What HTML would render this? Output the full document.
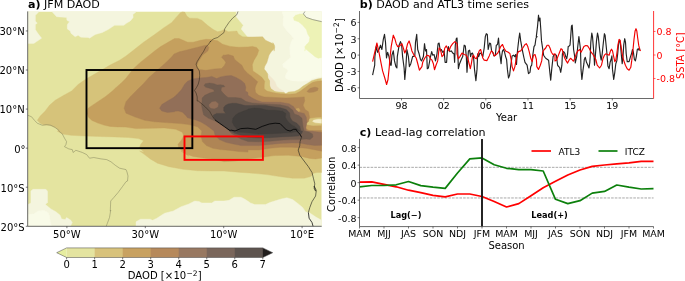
<!DOCTYPE html>
<html><head><meta charset="utf-8"><title>Figure</title>
<style>html,body{margin:0;padding:0;background:#fff}svg{display:block}</style></head>
<body>
<svg width="685" height="281" viewBox="0 0 685 281" font-family="'DejaVu Sans', 'Liberation Sans', sans-serif">
<rect width="685" height="281" fill="#fff"/>
<defs><clipPath id="mc"><rect x="27.7" y="11.4" width="294.00" height="214.90"/></clipPath></defs>
<g clip-path="url(#mc)">
<rect x="27.7" y="11.4" width="294.00" height="214.90" fill="#e4e4a0"/>
<path d="M27.3,10.3 L38.7,10.3 L38.7,12.1 L35.4,15.3 L35.4,21.0 L37.3,23.2 L35.4,24.6 L35.4,29.6 L37.3,32.5 L41.6,38.2 L33.7,43.6 L27.3,43.6Z" fill="#f4f5de" stroke="#f4f5de" stroke-width="0.4" stroke-linejoin="round"/>
<path d="M52.3,10.3 L52.3,12.1 L56.6,16.7 L66.6,17.4 L66.9,20.3 L69.5,21.7 L67.3,24.6 L67.3,28.9 L70.2,31.0 L70.9,33.2 L75.2,36.8 L78.1,35.3 L80.9,37.2 L88.1,37.5 L89.5,38.2 L95.2,34.6 L102.4,32.5 L108.1,29.6 L114.6,25.3 L123.9,25.3 L126.0,23.6 L130.3,21.0 L133.2,17.4 L132.9,14.6 L136.0,12.1 L136.0,10.3Z" fill="#f4f5de" stroke="#f4f5de" stroke-width="0.4" stroke-linejoin="round"/>
<path d="M236.2,10.3 L236.2,16.7 L239.7,21.0 L243.3,25.3 L241.2,28.9 L244.0,32.5 L247.6,36.8 L262.0,42.0 L258.0,60.0 L252.0,80.0 L258.0,96.0 L275.0,101.0 L300.0,96.0 L325.0,80.0 L325.0,5.0Z" fill="#f4f5de" stroke="#f4f5de" stroke-width="0.4" stroke-linejoin="round"/>
<path d="M30.9,191.0 L33.0,189.3 L45.9,189.3 L47.6,191.3 L47.6,202.8 L47.3,202.4 L45.5,204.6 L50.9,208.9 L55.9,211.7 L60.2,215.3 L61.6,218.9 L65.2,219.6 L66.6,217.5 L70.9,220.3 L72.3,222.5 L70.2,226.8 L27.3,226.8 L27.3,204.8 L30.9,203.0Z" fill="#f4f5de" stroke="#f4f5de" stroke-width="0.4" stroke-linejoin="round"/>
<path d="M136.0,226.8 L136.0,221.8 L140.3,219.2 L150.3,219.2 L152.5,220.3 L156.8,218.2 L164.6,213.2 L173.2,211.0 L181.1,206.7 L188.9,203.9 L194.7,201.0 L199.0,201.5 L201.8,202.9 L211.8,202.9 L214.7,201.0 L224.0,201.0 L224.0,201.0 L229.0,200.3 L234.0,197.2 L241.2,197.2 L245.5,199.6 L250.5,202.9 L254.8,204.6 L265.5,204.6 L269.8,202.5 L276.9,200.3 L281.2,198.9 L286.9,197.7 L292.7,199.6 L298.4,203.9 L302.7,207.5 L305.5,211.8 L309.8,212.9 L315.6,216.8 L324.1,221.8 L324.1,227.5Z" fill="#f4f5de" stroke="#f4f5de" stroke-width="0.4" stroke-linejoin="round"/>
<path d="M292.8,38.8 L290.7,43.2 L289.6,47.5 L290.1,54.0 L290.7,57.2 L285.8,61.5 L282.6,64.2 L283.1,66.9 L286.9,69.1 L288.0,71.0 L288.0,71.0 L285.3,75.3 L285.8,78.6 L291.2,80.7 L299.8,81.3 L308.5,80.7 L312.8,78.6 L318.2,76.9 L323.6,76.4 L325.0,5.0 L281.9,10.3 L283.4,16.7 L282.9,25.3 L286.9,31.0 L291.2,35.3 L294.1,39.6Z" fill="#f9fbe8" stroke="#f9fbe8" stroke-width="0.4" stroke-linejoin="round"/>
<path d="M27.3,214.6 L33.7,213.9 L38.0,211.0 L43.7,210.3 L48.0,212.5 L49.5,216.0 L50.2,221.0 L51.6,226.8 L27.3,226.8Z" fill="#f9fbe8" stroke="#f9fbe8" stroke-width="0.4" stroke-linejoin="round"/>
<path d="M295.5,15.3 L293.4,17.4 L294.1,20.3 L298.4,21.7 L302.0,24.6 L306.3,29.6 L307.7,33.9 L309.8,37.5 L309.1,41.8 L305.5,46.1 L304.8,51.1 L306.9,44.2 L304.7,46.9 L306.3,49.6 L310.6,52.9 L315.0,56.7 L318.2,58.3 L323.6,57.2 L324.1,22.2 L312.7,19.6 L306.3,17.4 L303.4,13.9 L299.8,14.1Z" fill="#edf2b6" stroke="#edf2b6" stroke-width="0.4" stroke-linejoin="round"/>
<path d="M37.3,120.3 L40.2,116.0 L45.2,111.0 L49.5,105.3 L55.2,100.3 L63.8,95.3 L71.6,91.0 L78.1,84.6 L85.2,79.6 L93.8,74.6 L102.4,69.6 L111.0,64.6 L119.6,60.3 L126.0,56.0 L132.4,51.1 L143.2,42.5 L154.6,34.6 L163.2,28.2 L171.8,22.4 L176.1,17.4 L180.4,12.7 L182.5,11.7 L184.7,12.1 L186.8,16.0 L189.7,18.2 L197.5,18.4 L201.8,20.3 L207.5,25.3 L213.3,29.6 L217.6,31.7 L221.1,31.0 L224.0,29.6 L228.3,31.7 L236.9,31.0 L238.3,33.9 L242.6,36.8 L247.6,37.0 L262.6,36.8 L265.5,40.3 L272.6,43.6 L274.8,46.8 L274.1,51.1 L272.8,42.6 L274.5,45.3 L273.4,49.6 L271.2,51.8 L269.1,55.0 L268.0,58.8 L266.9,62.6 L264.7,66.4 L264.2,69.1 L265.8,71.0 L268.0,74.2 L268.5,78.0 L270.1,80.7 L270.1,85.0 L271.2,88.3 L275.0,91.0 L283.6,92.1 L285.8,93.7 L288.5,92.1 L294.4,91.5 L298.8,89.4 L303.1,86.1 L307.4,83.4 L311.7,80.7 L317.1,79.1 L323.6,78.0 L325.0,172.4 L317.0,172.5 L313.4,173.2 L311.3,176.0 L309.8,176.8 L304.1,178.2 L292.7,178.2 L281.2,176.8 L266.9,174.6 L252.6,173.2 L238.3,172.2 L224.0,171.0 L211.8,171.0 L197.5,170.7 L183.2,169.3 L168.9,166.7 L157.5,163.2 L150.3,158.9 L144.6,154.6 L139.6,151.0 L144.3,152.2 L139.3,147.9 L140.8,144.3 L143.6,140.7 L138.6,138.6 L128.6,137.5 L114.3,136.9 L100.0,136.5 L85.2,136.0 L70.9,135.3 L62.3,133.9 L57.3,131.0 L59.5,131.1 L55.2,127.5 L49.5,125.3 L43.7,125.0 L40.2,123.2Z" fill="#d6c37a" stroke="#d6c37a" stroke-width="0.4" stroke-linejoin="round"/>
<path d="M268.0,74.2 L269.1,75.3 L272.3,78.6 L275.0,81.8 L276.6,86.1 L279.3,88.8 L283.6,91.0 L283.6,92.1 L275.0,91.0 L271.2,88.3 L270.1,85.0 L270.1,80.7 L268.5,78.0Z" fill="#f1e8cf" stroke="#f1e8cf" stroke-width="0.4" stroke-linejoin="round"/>
<path d="M87.4,110.3 L88.1,108.2 L96.7,102.4 L105.3,96.7 L112.4,91.0 L115.3,88.2 L121.0,83.2 L126.0,78.2 L133.2,68.9 L140.3,62.4 L147.5,56.7 L154.6,51.0 L160.3,46.8 L168.9,41.8 L174.6,38.5 L178.9,38.5 L183.2,40.3 L187.5,42.2 L193.2,42.2 L200.4,40.3 L206.1,39.3 L211.8,39.6 L217.6,40.8 L222.6,44.2 L230.2,46.4 L238.8,47.3 L248.0,46.9 L252.3,46.4 L256.6,47.5 L258.8,50.2 L257.2,55.0 L253.9,60.4 L252.3,64.8 L252.9,71.0 L257.7,74.2 L262.0,77.5 L264.7,81.3 L264.2,85.0 L264.2,88.8 L266.9,91.0 L272.8,92.6 L280.4,93.7 L289.0,94.2 L295.5,93.7 L299.8,91.5 L304.2,88.3 L308.5,85.0 L312.8,82.3 L317.1,81.3 L323.6,80.7 L325.0,158.0 L322.0,157.9 L315.6,158.9 L309.8,158.4 L301.3,156.4 L288.4,155.3 L274.1,155.6 L264.1,157.0 L248.0,158.9 L235.4,161.0 L224.0,161.7 L214.7,159.3 L203.3,157.9 L193.2,156.4 L186.1,153.9 L181.1,151.0 L188.7,155.8 L184.4,152.2 L178.7,147.9 L178.0,144.3 L181.5,140.0 L183.7,135.7 L182.3,132.2 L175.8,129.3 L164.4,127.9 L150.1,128.3 L135.8,128.6 L125.8,127.1 L117.9,126.9 L109.9,126.4 L103.9,125.1 L97.9,123.1 L92.0,120.4 L88.5,117.3 L87.0,113.5Z" fill="#c5a05e" stroke="#c5a05e" stroke-width="0.4" stroke-linejoin="round"/>
<path d="M323.3,117.4 L316.2,117.7 L310.5,118.5 L306.2,120.2 L304.8,122.4 L306.9,124.5 L312.6,125.5 L323.3,125.2Z" fill="#d6c37a" stroke="#d6c37a" stroke-width="0.4" stroke-linejoin="round"/>
<path d="M323.3,119.2 L317.6,119.2 L313.3,120.2 L312.6,121.6 L315.5,122.8 L323.3,123.4Z" fill="#f3ecc6" stroke="#f3ecc6" stroke-width="0.4" stroke-linejoin="round"/>
<path d="M136.0,91.0 L130.3,96.7 L126.0,101.7 L124.1,108.2 L126.0,113.2 L134.6,116.8 L144.6,120.3 L154.6,121.8 L168.9,122.8 L180.4,123.6 L188.9,124.6 L197.5,126.8 L201.8,131.1 L201.0,136.4 L202.6,141.8 L206.4,145.6 L212.9,148.3 L220.4,149.6 L230.2,150.4 L238.8,151.5 L248.0,152.1 L248.0,149.9 L258.8,149.9 L269.6,148.3 L280.4,147.2 L291.2,147.2 L299.8,147.7 L306.3,148.3 L312.8,149.4 L323.6,151.5 L325.0,130.5 L309.0,130.5 L306.3,129.1 L304.2,124.8 L308.5,121.5 L309.6,117.2 L308.5,111.8 L305.2,109.6 L303.1,105.3 L304.7,101.0 L304.2,96.9 L296.6,97.5 L285.8,98.0 L275.0,97.5 L264.2,96.9 L258.8,95.3 L255.6,92.6 L255.0,88.3 L256.1,85.0 L257.7,81.8 L254.5,79.1 L251.2,75.9 L248.0,73.7 L244.0,69.6 L241.9,65.3 L238.3,62.4 L234.7,59.6 L233.3,56.0 L228.3,54.6 L224.0,55.3 L223.7,54.8 L221.5,57.2 L224.2,59.9 L225.8,62.6 L224.2,65.8 L221.5,68.5 L214.7,68.9 L206.1,70.3 L199.0,69.6 L196.1,65.3 L197.2,64.8 L198.3,61.5 L200.5,58.3 L202.6,55.0 L205.3,52.9 L208.0,50.7 L208.8,47.5 L207.5,45.3 L204.2,45.5 L198.8,46.9 L192.4,48.6 L185.9,50.2 L179.4,51.8 L174.0,54.0 L171.8,56.7 L166.1,62.4 L160.3,67.5 L154.6,72.5 L148.9,77.5 L143.2,83.9 L137.4,89.6Z" fill="#af8555" stroke="#af8555" stroke-width="0.4" stroke-linejoin="round"/>
<path d="M306.9,91.5 L310.1,88.3 L315.0,87.0 L318.2,88.1 L317.7,90.4 L313.9,92.1 L309.0,92.6Z" fill="#af8555" stroke="#af8555" stroke-width="0.4" stroke-linejoin="round"/>
<path d="M295.5,110.2 L296.6,108.6 L298.8,108.3 L300.1,110.2 L298.8,112.0 L296.6,112.0Z" fill="#c5a05e" stroke="#c5a05e" stroke-width="0.4" stroke-linejoin="round"/>
<path d="M174.0,97.5 L177.2,94.2 L181.6,89.4 L184.8,84.0 L187.5,81.3 L192.4,79.1 L198.8,78.0 L206.4,77.5 L211.8,76.4 L216.7,78.6 L220.4,76.9 L225.8,75.9 L231.2,75.5 L236.1,77.5 L241.0,80.2 L244.7,83.4 L245.8,87.2 L245.3,91.0 L248.0,92.6 L248.0,95.3 L252.3,98.0 L256.6,100.2 L262.0,102.0 L280.4,102.3 L289.0,103.7 L293.4,106.4 L295.5,109.6 L298.8,112.3 L304.2,113.4 L306.3,117.2 L306.9,122.6 L305.8,128.0 L306.3,131.0 L312.6,131.3 L317.9,132.1 L324.0,132.8 L324.0,145.1 L314.7,145.5 L307.2,144.5 L299.8,143.1 L291.2,142.9 L280.4,143.4 L269.6,144.5 L258.8,145.6 L248.0,145.6 L241.0,145.6 L233.4,144.0 L225.8,142.3 L219.4,139.6 L215.0,135.3 L214.0,131.0 L210.7,128.5 L206.4,125.3 L201.0,122.1 L195.6,119.9 L191.3,118.8 L187.5,117.7 L185.3,115.0 L182.6,112.3 L178.3,110.9 L174.0,111.3 L174.6,111.7 L167.5,112.5 L161.8,111.0 L159.6,108.2 L161.8,104.6 L167.5,101.0 L176.1,96.0Z" fill="#926f58" stroke="#926f58" stroke-width="0.4" stroke-linejoin="round"/>
<path d="M202.1,101.0 L202.1,98.0 L204.8,95.3 L209.6,93.1 L214.5,91.5 L213.4,89.4 L209.6,88.3 L205.9,87.2 L204.0,85.6 L205.3,83.7 L209.6,83.1 L214.0,83.7 L217.2,85.0 L220.4,84.8 L223.7,85.3 L224.8,86.7 L221.5,87.2 L221.0,90.4 L222.6,92.6 L225.3,95.3 L228.0,97.5 L235.3,97.5 L241.1,98.2 L246.1,101.5 L252.0,102.9 L258.8,103.4 L269.6,104.2 L280.4,104.8 L288.0,106.4 L292.8,110.2 L294.4,114.0 L298.8,115.6 L302.0,118.3 L302.5,122.6 L303.1,126.9 L304.2,131.0 L309.0,132.0 L312.5,134.0 L313.0,137.0 L310.0,139.5 L306.3,139.1 L299.8,139.6 L291.2,139.6 L280.4,140.2 L269.6,141.3 L258.8,141.8 L248.0,141.5 L241.0,139.1 L235.6,135.9 L231.2,133.2 L229.1,131.0 L225.3,127.5 L220.4,124.2 L215.0,121.0 L208.6,118.3 L203.7,115.0 L202.6,110.7 L201.5,105.3 L202.1,101.0Z" fill="#725d4f" stroke="#725d4f" stroke-width="0.4" stroke-linejoin="round"/>
<path d="M209.6,104.2 L211.8,102.1 L215.6,101.5 L218.3,103.7 L217.7,106.9 L214.5,108.6 L210.7,108.0 L209.1,105.9Z" fill="#926f58" stroke="#926f58" stroke-width="0.4" stroke-linejoin="round"/>
<path d="M244.8,105.5 L240.4,104.3 L236.0,103.3 L232.4,103.3 L228.0,104.0 L225.3,105.5 L223.7,107.5 L223.7,110.7 L225.8,113.4 L221.5,113.4 L216.7,113.4 L213.4,115.0 L213.4,117.7 L216.1,120.4 L220.4,123.7 L224.8,126.4 L228.5,129.3 L230.2,131.0 L234.5,133.2 L241.0,135.3 L248.0,137.2 L258.8,138.0 L269.6,137.7 L280.4,136.9 L291.2,136.4 L298.8,135.9 L302.0,133.2 L302.5,131.0 L300.9,131.0 L299.8,126.4 L296.6,123.1 L292.3,121.0 L290.1,117.2 L289.6,112.9 L286.3,109.6 L280.4,107.7 L271.8,106.6 L266.0,105.5 L258.7,105.3 L251.3,105.5Z" fill="#514944" stroke="#514944" stroke-width="0.4" stroke-linejoin="round"/>
<path d="M248.0,109.6 L243.1,111.3 L238.8,112.9 L235.6,115.0 L232.9,118.3 L232.3,122.1 L233.9,125.3 L236.1,128.0 L237.7,131.0 L236.6,132.1 L242.0,132.3 L248.0,132.8 L258.8,134.0 L269.6,133.7 L280.4,133.2 L291.2,132.6 L297.7,131.5 L299.8,131.0 L297.1,128.5 L294.4,126.4 L290.7,124.2 L287.4,121.0 L285.3,117.2 L285.8,113.4 L282.6,111.3 L275.0,110.2 L267.4,110.2 L261.0,108.6 L254.5,108.0 L248.0,109.1Z" fill="#423e3b" stroke="#423e3b" stroke-width="0.4" stroke-linejoin="round"/>
<path d="M238.3,10.6 L236.9,14.6 L232.6,18.2 L229.0,22.4 L226.1,26.7 L224.7,28.9 L224.0,32.5 L217.6,37.5 L213.3,38.9 L210.4,41.8 L210.7,41.0 L208.6,44.2 L205.9,46.9 L203.7,51.3 L200.5,56.1 L197.2,61.5 L196.1,64.2 L197.2,67.5 L199.4,71.0 L199.7,75.3 L199.4,79.6 L198.3,84.0 L196.7,87.2 L194.5,90.4 L196.1,93.1 L197.2,96.9 L197.2,101.0 L198.3,101.0 L201.0,103.2 L205.3,106.9 L209.6,111.3 L212.3,116.1 L215.0,119.9" fill="none" stroke="#2a2418" stroke-width="0.5" stroke-linejoin="round"/>
<path d="M215.0,119.9 L219.4,123.1 L224.8,126.9 L230.2,130.7 L230.7,130.0 L235.0,131.0 L240.7,128.6 L247.9,128.2 L255.8,129.3 L262.2,126.4 L269.3,124.0 L275.1,123.2 L280.1,123.6 L282.9,126.4 L286.5,130.0 L290.1,131.0 L293.7,129.3 L296.2,129.3 L297.2,131.5 L300.1,134.3 L301.5,137.2" fill="none" stroke="#0c0c0c" stroke-width="0.95" stroke-linejoin="round"/>
<path d="M301.5,137.2 L300.1,141.5 L299.7,145.8 L298.2,150.1 L299.8,155.3 L304.1,161.0 L308.4,166.7 L312.0,172.5 L313.4,178.2 L314.8,183.9 L314.1,188.2 L315.6,191.1 L314.1,186.0 L316.3,190.3 L315.6,196.0 L312.0,201.7 L309.8,207.5 L308.4,212.5" fill="none" stroke="#2a2a20" stroke-width="0.65" stroke-linejoin="round"/>
<path d="M308.4,212.5 L309.1,218.2 L312.0,222.5 L313.4,227.5" fill="none" stroke="#111" stroke-width="0.8" stroke-linejoin="round"/>
<path d="M27.3,115.0 L31.6,116.8 L34.4,120.3 L37.3,123.2 L42.3,125.3 L46.6,124.6 L50.9,125.3 L55.2,127.5 L58.8,130.3 L58.8,131.0 L62.3,133.9 L64.5,138.2 L66.6,141.7 L65.9,144.6 L64.5,146.7 L68.8,148.9 L72.3,149.6 L73.1,152.5 L75.9,150.3 L82.4,152.5 L86.7,154.6 L89.5,158.2 L93.8,157.5 L101.0,158.9 L106.7,159.6 L111.0,161.8 L115.3,165.3 L119.6,168.2 L126.0,169.6 L127.0,172.0 L128.0,176.0 L127.5,181.0 L126.0,181.7 L122.4,186.7 L118.1,192.5 L113.8,197.5 L110.7,201.0 L110.3,211.1 L110.7,210.3 L109.5,217.5 L107.4,223.2 L106.0,226.8" fill="none" stroke="#8a8a62" stroke-width="0.55" stroke-linejoin="round"/>
<path d="M305.5,10.6 L303.4,13.9 L306.3,17.4 L312.7,19.6 L324.1,22.2" fill="none" stroke="#555" stroke-width="0.5" stroke-linejoin="round"/>
</g>
<rect x="86.50" y="70.01" width="105.84" height="78.15" fill="none" stroke="#000" stroke-width="1.9"/>
<rect x="184.50" y="136.43" width="78.40" height="23.44" fill="none" stroke="#f00" stroke-width="1.9"/>
<path d="M27.7,11.4 V226.3 H321.7" fill="none" stroke="#444" stroke-width="0.8"/>
<path d="M25.80,30.94 H27.7" stroke="#222" stroke-width="0.6"/>
<text x="24.70" y="35.04" text-anchor="end" font-size="10.0" fill="#000">30°N</text>
<path d="M25.80,70.01 H27.7" stroke="#222" stroke-width="0.6"/>
<text x="24.70" y="74.24" text-anchor="end" font-size="10.0" fill="#000">20°N</text>
<path d="M25.80,109.08 H27.7" stroke="#222" stroke-width="0.6"/>
<text x="24.70" y="113.44" text-anchor="end" font-size="10.0" fill="#000">10°N</text>
<path d="M25.80,148.15 H27.7" stroke="#222" stroke-width="0.6"/>
<text x="25.50" y="152.64" text-anchor="end" font-size="10.0" fill="#000">0°</text>
<path d="M25.80,187.23 H27.7" stroke="#222" stroke-width="0.6"/>
<text x="24.70" y="191.85" text-anchor="end" font-size="10.0" fill="#000">10°S</text>
<path d="M25.80,226.30 H27.7" stroke="#222" stroke-width="0.6"/>
<text x="24.70" y="231.05" text-anchor="end" font-size="10.0" fill="#000">20°S</text>
<path d="M66.90,226.3 V228.20" stroke="#222" stroke-width="0.6"/>
<text x="66.90" y="237.60" text-anchor="middle" font-size="10.0" fill="#000">50°W</text>
<path d="M145.30,226.3 V228.20" stroke="#222" stroke-width="0.6"/>
<text x="145.30" y="237.60" text-anchor="middle" font-size="10.0" fill="#000">30°W</text>
<path d="M223.70,226.3 V228.20" stroke="#222" stroke-width="0.6"/>
<text x="223.70" y="237.60" text-anchor="middle" font-size="10.0" fill="#000">10°W</text>
<path d="M302.10,226.3 V228.20" stroke="#222" stroke-width="0.6"/>
<text x="302.10" y="237.60" text-anchor="middle" font-size="10.0" fill="#000">10°E</text>
<text x="28.00" y="8.3" font-size="11.1"><tspan font-weight="bold">a)</tspan> JFM DAOD</text>
<rect x="66.60" y="247.9" width="28.33" height="9.60" fill="#e4e4a0"/>
<rect x="94.63" y="247.9" width="28.33" height="9.60" fill="#d8c27b"/>
<rect x="122.66" y="247.9" width="28.33" height="9.60" fill="#c8a160"/>
<rect x="150.69" y="247.9" width="28.33" height="9.60" fill="#b6895b"/>
<rect x="178.72" y="247.9" width="28.33" height="9.60" fill="#987861"/>
<rect x="206.75" y="247.9" width="28.33" height="9.60" fill="#7a665b"/>
<rect x="234.78" y="247.9" width="28.33" height="9.60" fill="#5e544f"/>
<path d="M66.6,247.9 L56.70,252.7 L66.6,257.5Z" fill="#e6ed9f"/>
<path d="M262.81,247.9 L272.71,252.7 L262.81,257.5Z" fill="#221e1d"/>
<path d="M66.6,247.9 L56.70,252.7 L66.6,257.5 H262.81 L272.71,252.7 L262.81,247.9Z" fill="none" stroke="#444" stroke-width="0.5"/>
<path d="M66.60,257.5 V259.40" stroke="#222" stroke-width="0.6"/>
<text x="66.60" y="268.40" text-anchor="middle" font-size="10.0" fill="#000">0</text>
<path d="M94.63,257.5 V259.40" stroke="#222" stroke-width="0.6"/>
<text x="94.63" y="268.40" text-anchor="middle" font-size="10.0" fill="#000">1</text>
<path d="M122.66,257.5 V259.40" stroke="#222" stroke-width="0.6"/>
<text x="122.66" y="268.40" text-anchor="middle" font-size="10.0" fill="#000">2</text>
<path d="M150.69,257.5 V259.40" stroke="#222" stroke-width="0.6"/>
<text x="150.69" y="268.40" text-anchor="middle" font-size="10.0" fill="#000">3</text>
<path d="M178.72,257.5 V259.40" stroke="#222" stroke-width="0.6"/>
<text x="178.72" y="268.40" text-anchor="middle" font-size="10.0" fill="#000">4</text>
<path d="M206.75,257.5 V259.40" stroke="#222" stroke-width="0.6"/>
<text x="206.75" y="268.40" text-anchor="middle" font-size="10.0" fill="#000">5</text>
<path d="M234.78,257.5 V259.40" stroke="#222" stroke-width="0.6"/>
<text x="234.78" y="268.40" text-anchor="middle" font-size="10.0" fill="#000">6</text>
<path d="M262.81,257.5 V259.40" stroke="#222" stroke-width="0.6"/>
<text x="262.81" y="268.40" text-anchor="middle" font-size="10.0" fill="#000">7</text>
<text x="164.70" y="279.4" text-anchor="middle" font-size="10.05">DAOD [×<tspan dx="0.2">10</tspan><tspan font-size="7.5" dy="-3.9" dx="0.3">−2</tspan><tspan dy="3.9" dx="0.2">]</tspan></text>
<defs><clipPath id="bc"><rect x="359.5" y="9.0" width="294.10" height="89.50"/></clipPath></defs>
<g clip-path="url(#bc)" fill="none" stroke-linejoin="round">
<path d="M372.6,75.2 L374.7,65.2 L374.9,56.6 L376.2,46.6 L377.6,52.3 L379.0,49.5 L380.5,45.2 L381.9,49.5 L383.3,39.4 L384.5,34.4 L385.5,42.3 L386.5,58.0 L387.6,52.3 L389.0,56.6 L390.5,65.2 L391.2,65.2 L391.9,55.2 L393.3,50.9 L394.5,60.9 L395.9,66.6 L396.9,68.0 L397.3,56.6 L399.1,45.2 L400.5,41.6 L401.6,44.5 L402.6,56.6 L404.1,68.0 L404.8,79.5 L405.9,66.6 L406.9,49.5 L408.4,56.6 L409.4,66.6 L410.8,63.7 L412.6,56.6 L414.8,55.9 L415.5,42.3 L416.7,34.4 L417.7,49.5 L419.1,53.8 L420.5,59.5 L421.5,60.9 L423.4,56.6 L424.5,43.7 L425.5,50.9 L426.5,49.5 L427.3,68.7 L428.4,68.0 L429.5,62.0 L430.5,56.6 L431.7,51.6 L432.7,55.2 L434.1,54.5 L435.5,60.9 L437.0,53.8 L438.1,43.7 L439.1,43.0 L440.3,50.9 L441.3,49.5 L442.7,52.3 L444.1,50.9 L445.1,62.3 L446.6,62.3 L447.4,50.9 L448.4,46.6 L449.8,51.6 L451.3,50.9 L452.7,53.0 L454.1,54.0 L454.6,62.3 L455.3,45.0 L456.3,38.7 L457.0,38.0 L457.7,49.5 L458.4,68.7 L459.6,63.7 L461.3,59.5 L462.7,56.6 L464.2,45.2 L465.3,45.9 L466.3,56.6 L467.0,72.3 L468.4,50.9 L469.6,50.2 L470.6,56.6 L471.3,53.8 L472.5,53.0 L473.5,56.6 L474.5,69.4 L475.9,80.6 L477.0,69.4 L477.7,53.8 L478.7,56.6 L479.9,53.0 L481.3,53.8 L482.8,56.6 L484.2,48.0 L485.3,36.6 L486.3,33.7 L487.3,34.4 L488.2,49.5 L489.6,43.0 L490.6,43.7 L491.6,50.9 L492.8,52.3 L493.9,55.9 L495.3,55.2 L496.3,45.2 L497.5,44.5 L498.5,38.0 L499.6,52.3 L501.1,63.7 L501.6,56.6 L502.5,50.9 L503.5,49.5 L504.6,52.3 L505.6,56.6 L506.6,59.5 L507.4,69.4 L508.5,78.0 L509.6,75.2 L510.6,66.6 L512.1,55.9 L513.5,55.2 L514.7,56.6 L515.7,54.5 L516.5,64.4 L517.2,53.8 L517.8,48.0 L518.8,39.4 L519.7,33.0 L520.7,40.9 L521.7,46.6 L522.8,52.3 L524.0,58.0 L525.0,62.3 L527.1,65.2 L528.5,73.7 L530.0,72.3 L530.7,66.6 L531.7,65.2 L532.8,55.2 L534.0,46.6 L535.0,45.2 L536.0,38.0 L537.1,36.6 L536.3,36.6 L537.5,26.6 L538.5,15.2 L539.2,20.9 L540.0,18.0 L540.8,29.5 L541.5,40.9 L542.8,49.5 L543.6,55.2 L545.0,57.3 L546.4,58.8 L548.6,60.2 L550.0,73.7 L550.7,80.2 L551.7,69.4 L553.1,56.6 L554.3,54.5 L555.0,54.5 L556.4,55.2 L557.6,65.2 L558.6,66.6 L559.6,67.3 L560.7,72.3 L561.9,65.2 L562.4,53.8 L563.6,51.6 L564.7,53.0 L565.7,56.6 L566.7,58.8 L567.6,53.8 L568.2,46.6 L569.3,45.9 L570.0,45.2 L570.7,36.6 L571.5,25.9 L572.2,25.2 L572.9,36.6 L573.6,49.5 L574.7,56.6 L575.3,63.0 L576.7,56.6 L577.9,45.2 L578.9,36.6 L579.6,42.3 L580.5,49.5 L581.0,69.4 L581.9,79.5 L582.9,70.9 L583.9,63.7 L584.3,59.5 L585.3,57.3 L586.5,62.3 L587.9,65.2 L589.0,68.0 L589.8,62.3 L590.2,56.6 L590.8,42.3 L591.8,33.0 L592.5,36.6 L593.3,46.6 L594.1,56.6 L594.5,65.2 L595.5,53.8 L596.5,40.9 L597.5,33.0 L598.3,36.6 L599.3,46.6 L600.5,56.6 L601.2,60.2 L602.2,53.8 L603.4,42.3 L604.4,33.7 L605.1,35.2 L605.8,42.3 L606.8,52.3 L607.9,65.9 L609.1,68.7 L610.1,62.3 L611.1,59.5 L611.9,55.9 L612.5,69.4 L613.7,79.5 L614.8,72.3 L615.8,63.7 L616.8,60.9 L617.7,53.8 L618.7,42.3 L619.7,40.2 L620.5,45.2 L621.5,56.6 L622.2,63.7 L623.0,56.6 L623.7,45.2 L624.7,38.7 L625.5,42.3 L626.2,53.8 L627.2,61.6 L627.7,61.6 L629.1,61.6 L630.5,56.6 L631.5,53.8 L632.5,49.5 L633.4,52.3 L634.4,59.5 L635.4,60.9 L636.3,56.6 L637.3,49.5 L638.3,48.7 L639.1,50.2 L640.1,48.7" stroke="#222" stroke-width="1.15"/>
<path d="M372.6,61.6 L376.9,43.0 L379.0,52.3 L381.2,63.8 L382.6,70.9 L384.8,78.0 L386.6,84.5 L388.0,79.5 L389.3,66.6 L389.8,59.5 L391.2,46.6 L393.3,35.2 L394.8,38.7 L396.2,43.7 L397.6,46.6 L399.8,45.9 L401.9,43.7 L403.3,48.0 L404.8,53.0 L406.2,49.5 L407.6,43.7 L409.1,40.9 L410.5,45.2 L411.9,50.9 L414.1,55.2 L416.2,58.0 L417.7,63.5 L419.4,70.2 L421.9,66.6 L422.7,62.3 L424.8,58.0 L427.0,55.2 L429.1,55.9 L430.5,58.8 L432.0,60.2 L433.4,63.8 L434.5,69.7 L436.0,65.2 L437.7,60.9 L439.1,48.0 L440.5,49.5 L442.0,56.6 L443.4,55.2 L444.8,48.0 L446.3,45.9 L447.7,48.7 L449.1,50.9 L450.6,46.6 L452.7,43.7 L454.9,41.6 L457.0,43.7 L457.0,53.8 L458.4,58.8 L459.9,56.6 L462.0,53.0 L464.2,54.5 L466.3,55.2 L467.7,58.0 L469.2,63.8 L470.3,68.7 L471.3,63.8 L472.5,56.6 L473.5,55.2 L474.9,58.0 L476.3,58.8 L477.7,55.2 L479.2,50.9 L480.6,49.5 L481.6,53.0 L482.8,58.0 L484.2,60.1 L487.0,60.6 L489.2,55.9 L491.3,50.9 L492.8,52.3 L494.2,55.9 L495.6,55.2 L497.8,53.0 L499.2,50.2 L500.6,46.6 L502.5,44.5 L503.9,48.0 L505.6,50.9 L507.8,52.0 L509.9,53.5 L511.4,60.9 L512.1,66.6 L513.5,70.9 L514.9,66.6 L515.9,60.9 L517.1,54.5 L518.5,51.6 L520.7,50.9 L522.8,48.0 L525.0,44.5 L526.4,43.7 L527.8,46.6 L529.2,51.6 L530.7,58.0 L532.1,61.6 L533.5,55.2 L535.0,54.5 L536.4,59.5 L536.8,66.6 L538.5,69.4 L540.3,65.2 L541.7,60.9 L542.8,51.6 L544.3,49.5 L545.7,48.0 L547.1,45.2 L548.6,45.2 L550.0,48.0 L551.4,52.3 L552.9,54.5 L555.0,53.8 L555.0,60.9 L556.4,60.2 L557.9,56.6 L559.3,53.0 L561.0,48.7 L562.2,49.5 L563.3,53.8 L564.7,58.0 L566.2,60.9 L567.6,63.1 L569.0,60.2 L570.5,58.3 L571.9,59.5 L573.3,61.2 L574.7,58.8 L576.2,53.8 L577.9,50.9 L579.6,49.5 L581.0,52.3 L582.5,49.5 L583.9,46.6 L585.8,45.5 L587.6,45.9 L589.0,48.0 L590.8,51.6 L592.5,53.8 L594.3,56.6 L595.8,59.5 L597.2,65.2 L599.6,68.0 L601.5,65.2 L602.9,58.8 L604.4,55.2 L605.8,53.8 L607.6,54.5 L609.1,55.2 L610.5,50.9 L611.5,49.2 L612.5,50.9 L613.7,56.6 L614.8,61.6 L615.8,60.2 L616.8,53.8 L617.9,45.2 L619.1,39.4 L620.1,40.2 L621.1,46.6 L622.2,53.8 L623.4,59.5 L625.4,65.2 L627.2,68.7 L629.1,70.2 L630.8,67.3 L631.7,60.9 L632.3,55.2 L633.0,49.5 L634.0,39.4 L635.1,30.9 L636.0,28.7 L636.8,30.9 L637.7,38.0 L638.7,45.2 L639.7,49.5 L640.6,50.9" stroke="#f10000" stroke-width="1.15"/>
</g>
<path d="M359.5,11.0 V98.5 H653.6" fill="none" stroke="#444" stroke-width="0.8"/>
<path d="M653.6,11.0 V98.5" fill="none" stroke="#f00" stroke-width="0.8"/>
<path d="M357.60,22.40 H359.5" stroke="#222" stroke-width="0.6"/>
<text x="356.50" y="26.30" text-anchor="end" font-size="9.45" fill="#000">6</text>
<path d="M357.60,38.75 H359.5" stroke="#222" stroke-width="0.6"/>
<text x="356.50" y="42.65" text-anchor="end" font-size="9.45" fill="#000">3</text>
<path d="M357.60,55.10 H359.5" stroke="#222" stroke-width="0.6"/>
<text x="356.50" y="59.00" text-anchor="end" font-size="9.45" fill="#000">0</text>
<path d="M357.60,71.45 H359.5" stroke="#222" stroke-width="0.6"/>
<text x="356.50" y="75.35" text-anchor="end" font-size="9.45" fill="#000">-3</text>
<path d="M357.60,87.80 H359.5" stroke="#222" stroke-width="0.6"/>
<text x="356.50" y="91.70" text-anchor="end" font-size="9.45" fill="#000">-6</text>
<path d="M653.6,31.48 H655.50" stroke="#f00" stroke-width="0.6"/>
<text x="656.50" y="35.38" text-anchor="start" font-size="9.45" fill="#f00">0.8</text>
<path d="M653.6,55.00 H655.50" stroke="#f00" stroke-width="0.6"/>
<text x="656.50" y="58.90" text-anchor="start" font-size="9.45" fill="#f00">0</text>
<path d="M653.6,78.52 H655.50" stroke="#f00" stroke-width="0.6"/>
<text x="656.50" y="82.42" text-anchor="start" font-size="9.45" fill="#f00">-0.8</text>
<path d="M401.50,98.5 V100.40" stroke="#222" stroke-width="0.6"/>
<text x="401.50" y="109.20" text-anchor="middle" font-size="9.45" fill="#000">98</text>
<path d="M443.66,98.5 V100.40" stroke="#222" stroke-width="0.6"/>
<text x="443.66" y="109.20" text-anchor="middle" font-size="9.45" fill="#000">02</text>
<path d="M485.82,98.5 V100.40" stroke="#222" stroke-width="0.6"/>
<text x="485.82" y="109.20" text-anchor="middle" font-size="9.45" fill="#000">06</text>
<path d="M527.98,98.5 V100.40" stroke="#222" stroke-width="0.6"/>
<text x="527.98" y="109.20" text-anchor="middle" font-size="9.45" fill="#000">11</text>
<path d="M570.14,98.5 V100.40" stroke="#222" stroke-width="0.6"/>
<text x="570.14" y="109.20" text-anchor="middle" font-size="9.45" fill="#000">15</text>
<path d="M612.30,98.5 V100.40" stroke="#222" stroke-width="0.6"/>
<text x="612.30" y="109.20" text-anchor="middle" font-size="9.45" fill="#000">19</text>
<text x="506.55" y="120.60" text-anchor="middle" font-size="10.0" fill="#000">Year</text>
<text transform="translate(343.1,55.15) rotate(-90)" text-anchor="middle" font-size="10.05">DAOD [×<tspan dx="0.2">10</tspan><tspan font-size="7.5" dy="-3.9" dx="0.3">−2</tspan><tspan dy="3.9" dx="0.2">]</tspan></text>
<text transform="translate(684.0,55.65) rotate(-90)" text-anchor="middle" font-size="9.75" fill="#f00">SSTA [°C]</text>
<text x="359.80" y="8.3" font-size="11.1"><tspan font-weight="bold">b)</tspan> DAOD and ATL3 time series</text>
<defs><clipPath id="cc"><rect x="359.5" y="138.9" width="294.60" height="87.70"/></clipPath></defs>
<path d="M359.5,167.34 H653.6" stroke="#8c8c8c" stroke-width="0.75" stroke-dasharray="2.6,1.1"/>
<path d="M359.5,197.96 H653.6" stroke="#8c8c8c" stroke-width="0.75" stroke-dasharray="2.6,1.1"/>
<g clip-path="url(#cc)" fill="none" stroke-linejoin="round">
<path d="M359.5,182.2 L371.8,181.8 L384.0,184.3 L396.2,186.8 L408.5,190.2 L420.8,192.7 L433.0,195.3 L445.2,196.9 L457.5,194.0 L469.8,194.0 L482.0,196.5 L494.2,201.5 L506.5,207.0 L518.8,203.6 L531.0,195.7 L543.2,187.7 L555.5,181.3 L567.8,175.0 L580.0,170.0 L592.2,166.4 L604.5,165.0 L616.8,163.9 L629.0,162.9 L641.2,161.4 L653.5,161.4" stroke="#f00" stroke-width="1.7"/>
<path d="M359.5,186.8 L371.8,185.5 L384.0,185.5 L396.2,184.8 L408.5,181.5 L420.8,185.6 L433.0,187.2 L445.2,188.4 L457.5,173.0 L469.8,158.9 L482.0,157.9 L494.2,164.7 L506.5,168.3 L518.8,169.7 L531.0,169.6 L543.2,171.0 L555.5,199.3 L567.8,203.6 L580.0,200.7 L592.2,193.1 L604.5,191.4 L616.8,185.0 L629.0,187.2 L641.2,189.0 L653.5,188.6" stroke="#0c800c" stroke-width="1.7"/>
</g>
<path d="M482.00,138.9 V226.6" stroke="#1a1a1a" stroke-width="1.9"/>
<path d="M359.5,138.9 V226.6 H653.6" fill="none" stroke="#444" stroke-width="0.8"/>
<path d="M357.60,147.65 H359.5" stroke="#222" stroke-width="0.6"/>
<text x="356.50" y="151.55" text-anchor="end" font-size="9.45" fill="#000">0.8</text>
<path d="M357.60,165.15 H359.5" stroke="#222" stroke-width="0.6"/>
<text x="356.50" y="169.05" text-anchor="end" font-size="9.45" fill="#000">0.4</text>
<path d="M357.60,182.65 H359.5" stroke="#222" stroke-width="0.6"/>
<text x="356.50" y="186.55" text-anchor="end" font-size="9.45" fill="#000">0</text>
<path d="M357.60,200.15 H359.5" stroke="#222" stroke-width="0.6"/>
<text x="356.50" y="204.05" text-anchor="end" font-size="9.45" fill="#000">-0.4</text>
<path d="M357.60,217.65 H359.5" stroke="#222" stroke-width="0.6"/>
<text x="356.50" y="221.55" text-anchor="end" font-size="9.45" fill="#000">-0.8</text>
<path d="M359.50,226.6 V228.50" stroke="#222" stroke-width="0.6"/>
<text x="359.50" y="237.30" text-anchor="middle" font-size="9.45" fill="#000">MAM</text>
<path d="M384.00,226.6 V228.50" stroke="#222" stroke-width="0.6"/>
<text x="384.00" y="237.30" text-anchor="middle" font-size="9.45" fill="#000">MJJ</text>
<path d="M408.50,226.6 V228.50" stroke="#222" stroke-width="0.6"/>
<text x="408.50" y="237.30" text-anchor="middle" font-size="9.45" fill="#000">JAS</text>
<path d="M433.00,226.6 V228.50" stroke="#222" stroke-width="0.6"/>
<text x="433.00" y="237.30" text-anchor="middle" font-size="9.45" fill="#000">SON</text>
<path d="M457.50,226.6 V228.50" stroke="#222" stroke-width="0.6"/>
<text x="457.50" y="237.30" text-anchor="middle" font-size="9.45" fill="#000">NDJ</text>
<path d="M482.00,226.6 V228.50" stroke="#222" stroke-width="0.6"/>
<text x="482.00" y="237.30" text-anchor="middle" font-size="9.45" fill="#000">JFM</text>
<path d="M506.50,226.6 V228.50" stroke="#222" stroke-width="0.6"/>
<text x="506.50" y="237.30" text-anchor="middle" font-size="9.45" fill="#000">MAM</text>
<path d="M531.00,226.6 V228.50" stroke="#222" stroke-width="0.6"/>
<text x="531.00" y="237.30" text-anchor="middle" font-size="9.45" fill="#000">MJJ</text>
<path d="M555.50,226.6 V228.50" stroke="#222" stroke-width="0.6"/>
<text x="555.50" y="237.30" text-anchor="middle" font-size="9.45" fill="#000">JAS</text>
<path d="M580.00,226.6 V228.50" stroke="#222" stroke-width="0.6"/>
<text x="580.00" y="237.30" text-anchor="middle" font-size="9.45" fill="#000">SON</text>
<path d="M604.50,226.6 V228.50" stroke="#222" stroke-width="0.6"/>
<text x="604.50" y="237.30" text-anchor="middle" font-size="9.45" fill="#000">NDJ</text>
<path d="M629.00,226.6 V228.50" stroke="#222" stroke-width="0.6"/>
<text x="629.00" y="237.30" text-anchor="middle" font-size="9.45" fill="#000">JFM</text>
<path d="M653.50,226.6 V228.50" stroke="#222" stroke-width="0.6"/>
<text x="653.50" y="237.30" text-anchor="middle" font-size="9.45" fill="#000">MAM</text>
<text x="506.55" y="248.60" text-anchor="middle" font-size="10.0" fill="#000">Season</text>
<text transform="translate(334.9,184.35) rotate(-90)" text-anchor="middle" font-size="10.0">Correlation</text>
<text x="359.80" y="136.2" font-size="11.1"><tspan font-weight="bold">c)</tspan> Lead-lag correlation</text>
<text x="406.00" y="217.90" text-anchor="middle" font-size="8.2" fill="#000" font-weight="bold">Lag(−)</text>
<text x="549.50" y="217.90" text-anchor="middle" font-size="8.2" fill="#000" font-weight="bold">Lead(+)</text>
<path d="M531.5,151 H551" stroke="#f00" stroke-width="1.7"/>
<text x="558.50" y="154.50" text-anchor="start" font-size="9.0" fill="#000">ATL3</text>
<path d="M598.5,151 H617.5" stroke="#0c800c" stroke-width="1.7"/>
<text x="624.80" y="154.50" text-anchor="start" font-size="9.0" fill="#000">ITCZ</text>
</svg>
</body></html>
